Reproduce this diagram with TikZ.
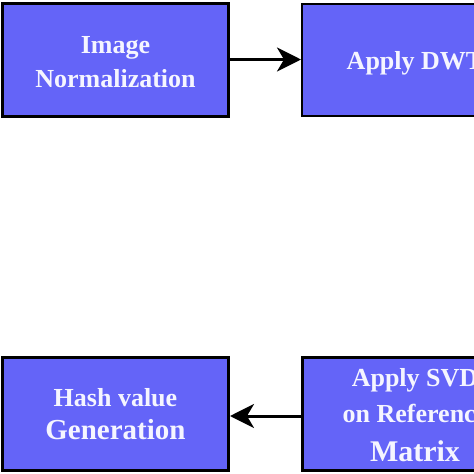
\documentclass[tikz,border=0pt]{standalone}
\usepackage{fontspec}
\setmainfont{Liberation Serif}
\usetikzlibrary{arrows.meta}
\definecolor{boxblue}{RGB}{100,100,248}
\definecolor{boxtextcol}{RGB}{245,245,255}
\tikzset{
  procbox/.style={draw=black, fill=boxblue, line width=3pt, minimum width=226pt,
    minimum height=113pt, inner sep=0pt},
  boxtext/.style={inner sep=0pt, text=boxtextcol,
    font=\bfseries\fontsize{26}{34}\selectfont},
  flow/.style={line width=3pt, -{Stealth[length=24pt,width=24pt,inset=7pt]}}
}
\newcommand{\bsize}[2]{\fontsize{#1}{#2}\bfseries\selectfont}
\begin{document}
\begin{tikzpicture}[x=1pt,y=-1pt]
\useasboundingbox (0,0) rectangle (474,474);
\clip (0,0) rectangle (474,474);
\node[procbox] (norm) at (115.5,59.5) {};
\node[procbox, line width=2pt, minimum height=112pt] (dwt) at (415,59.5) {};
\node[procbox] (hash) at (115.5,413.5) {};
\node[procbox] (svd) at (415,413.5) {};
\node[boxtext] (normtext) at ([yshift=-4pt]norm.center)
  {\begin{tabular}{@{}c@{}}\bsize{26}{34}Image\\[0pt]\bsize{26}{34}Normalization\end{tabular}};
\node[boxtext] (dwttext) at ([yshift=-4pt]dwt.center) {\bsize{26}{34}Apply DWT};
\node[boxtext] (hashtext) at ([yshift=-3pt]hash.center)
  {\begin{tabular}{@{}c@{}}\bsize{26}{34}Hash value\\[-1pt]\bsize{29}{34}Generation\end{tabular}};
\node[boxtext] (svdtext) at ([yshift=-4pt]svd.center)
  {\begin{tabular}{@{}c@{}}\bsize{26}{34}Apply SVD\\[2pt]\bsize{26}{34}on Reference\\[5pt]\bsize{30}{34}Matrix\hspace{16pt}\end{tabular}};
\draw[flow] (norm.east) -- (dwt.west);
\draw[flow] ([yshift=-2.5pt]svd.west) -- ([yshift=-2.5pt]hash.east);
\end{tikzpicture}
\end{document}
